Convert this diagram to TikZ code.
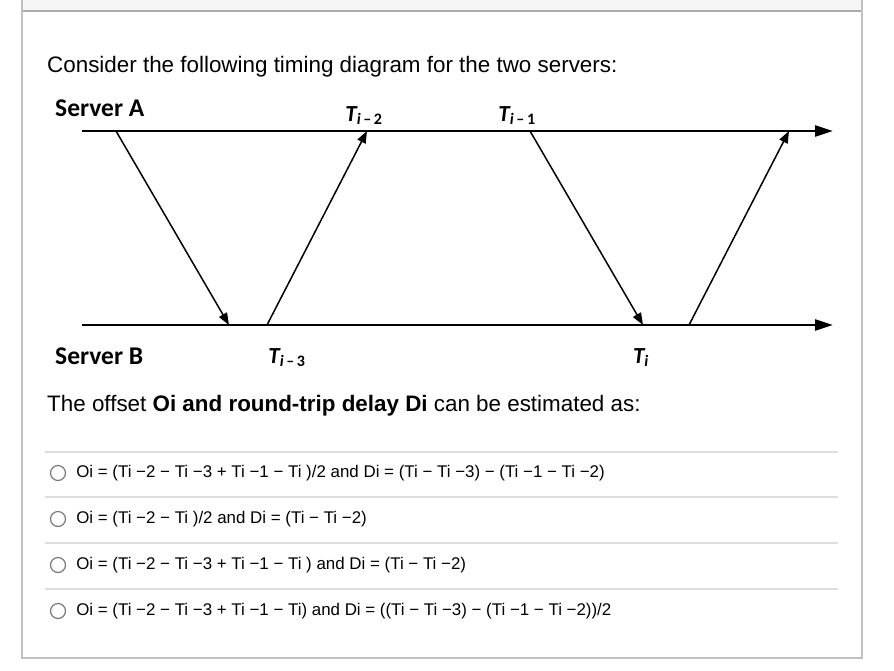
\documentclass[tikz,border=0pt]{standalone}
\usepackage{fontspec}
\setmainfont{Liberation Sans}
\newfontfamily\calibfont{Carlito}
\usetikzlibrary{positioning,arrows.meta,calc}
\definecolor{qzBorder}{RGB}{192,192,192}
\definecolor{qzHead}{RGB}{245,245,245}
\definecolor{qzLine}{RGB}{170,170,170}
\definecolor{qzRule}{RGB}{221,221,221}
\definecolor{qzRadio}{RGB}{120,120,120}
\tikzset{
    prompt/.style={font=\fontsize{22.4}{26}\selectfont, anchor=base west, inner sep=0pt},
    server/.style={font=\calibfont\bfseries\fontsize{25.5}{29}\selectfont, anchor=base west, inner sep=0pt},
    stamp/.style={font=\calibfont\bfseries\itshape\fontsize{23}{27}\selectfont, anchor=base, inner sep=0pt},
    choice/.style={font=\fontsize{16.9}{20}\selectfont, anchor=base west, inner sep=0pt},
    radio/.style={circle, draw=qzRadio, line width=1.2pt, fill=white, minimum size=15pt, inner sep=0pt},
    timeline/.style={line width=2.5pt, -{Triangle[length=18pt,width=11pt]}},
    msg/.style={line width=1.5pt, -{Triangle[length=12pt,width=9pt]}},
    rule/.style={qzRule, line width=2pt}
}
\newcommand{\stampT}[1]{T\textsubscript{\fontsize{16}{18}\selectfont #1}}

\begin{document}
\begin{tikzpicture}[x=1pt, y=-1pt]
  \useasboundingbox (0,0) rectangle (894,670);
  \fill[white] (0,0) rectangle (894,670);

  % Card frame
  \fill[qzHead] (22,0) rectangle (862,11);
  \draw[qzLine, line width=2pt] (22,11) -- (862,11);
  \draw[qzBorder, line width=1.5pt] (22,0) -- (22,658) -- (862,658) -- (862,0);

  % Question
  \node[prompt] (ask) at (47,72) {Consider the following timing diagram for the two servers:};

  % Time axes
  \coordinate (a0) at (82,131);
  \coordinate (a1) at (833,131);
  \coordinate (b0) at (82,325);
  \coordinate (b1) at (833,325);
  \draw[timeline] (a0) -- (a1);
  \draw[timeline] (b0) -- (b1);
  \node[server] (srvA) at (55,116) {Server A};
  \node[server] (srvB) at (55,364) {Server B};

  % Messages
  \coordinate (sA1) at (116,131);
  \coordinate (rB1) at (229,325);
  \coordinate (sB1) at (267,325);
  \coordinate (rA1) at (367,131);
  \coordinate (sA2) at (530,131);
  \coordinate (rB2) at (643,325);
  \coordinate (sB2) at (689,325);
  \coordinate (rA2) at (789,131);
  \draw[msg] (sA1) -- (rB1);
  \draw[msg] (sB1) -- (rA1);
  \draw[msg] (sA2) -- (rB2);
  \draw[msg] (sB2) -- (rA2);

  % Timestamps
  \node[stamp] (t2) at (364,121) {\stampT{i\upshape\,–\,2}};
  \node[stamp] (t1) at (517,121) {\stampT{i\upshape\,–\,1}};
  \node[stamp] (t3) at (287,363) {\stampT{i\upshape\,–\,3}};
  \node[stamp] (t0) at (641,363) {\stampT{i}};

  \node[prompt] (est) at (47,411) {The offset \textbf{Oi and round-trip delay Di} can be estimated as:};

  % Answer choices
  \foreach \y in {452,497,543,589}
    \draw[rule] (45,\y) -- (838,\y);
  \node[radio] (r1) at (58,473) {};
  \node[radio] (r2) at (58,519) {};
  \node[radio] (r3) at (58,565) {};
  \node[radio] (r4) at (58,611) {};
  \node[choice, right=10pt of r1.east, anchor=west] (c1) {Oi = (Ti −2 − Ti −3 + Ti −1 − Ti )/2 and Di = (Ti − Ti −3) − (Ti −1 − Ti −2)};
  \node[choice, right=10pt of r2.east, anchor=west] (c2) {Oi = (Ti −2 − Ti )/2 and Di = (Ti − Ti −2)};
  \node[choice, right=10pt of r3.east, anchor=west] (c3) {Oi = (Ti −2 − Ti −3 + Ti −1 − Ti ) and Di = (Ti − Ti −2)};
  \node[choice, right=10pt of r4.east, anchor=west] (c4) {Oi = (Ti −2 − Ti −3 + Ti −1 − Ti) and Di = ((Ti − Ti −3) − (Ti −1 − Ti −2))/2};
\end{tikzpicture}
\end{document}
